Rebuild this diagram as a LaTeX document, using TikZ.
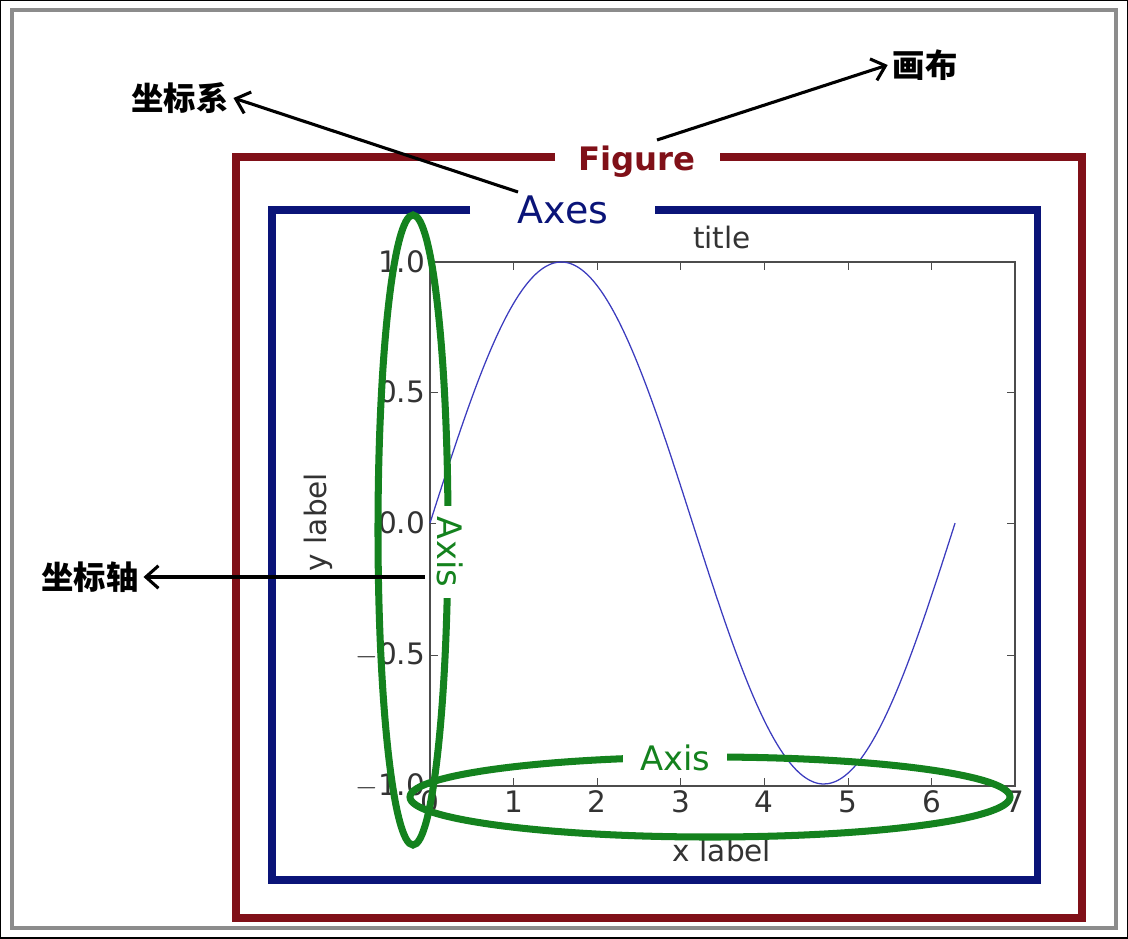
\documentclass[tikz,border=0pt]{standalone}
\usepackage{fontspec}
\setmainfont{DejaVu Sans}
\newfontfamily\cjk{Noto Sans CJK SC}
\usetikzlibrary{calc}
\usetikzlibrary{positioning}
\usetikzlibrary{arrows.meta}
\definecolor{figred}{RGB}{128,16,24}
\definecolor{axblue}{RGB}{10,20,120}
\definecolor{axgreen}{RGB}{20,130,30}
\definecolor{curve}{RGB}{60,60,190}
\tikzset{
  tick/.style={font=\fontsize{21}{24}\selectfont, text=black!80},
  zh/.style={font=\cjk\bfseries\fontsize{23}{26}\selectfont},
  callout/.style={draw=black, line width=2.2pt, -{Straight Barb[length=9pt,width=16pt]}},
}
\begin{document}
\begin{tikzpicture}[x=0.025cm,y=-0.025cm]
		  \useasboundingbox (0,0) rectangle (1128,938);
		  \draw[black, line width=1pt] (0,0) rectangle (1128,938);
		  \draw[black!45, line width=2.5pt] (12,10) rectangle (1116,928);
		  % figure frame
		  \draw[figred, line width=5.5pt] (555,157) -- (236,157) -- (236,918) -- (1082,918) -- (1082,157) -- (720,157);
		  \node[text=figred, font=\bfseries\fontsize{23}{26}\selectfont] (fig) at (637,162) {Figure};
		  % axes frame
		  \draw[axblue, line width=5pt] (470,210) -- (272,210) -- (272,880) -- (1037,880) -- (1037,210) -- (655,210);
		  \node[text=axblue, font=\fontsize{27}{30}\selectfont] (axes) at (563,210) {Axes};
		  % plot
		  \draw[black!70, line width=0.8pt] (430,262) rectangle (1015,786);
		  \node[tick] (title) at (722,237) {title};
		  \foreach \v/\yy in {1.0/262, 0.5/392, 0.0/523, $-$0.5/655, $-$1.0/786}{
		    \node[tick, anchor=east] at (430,\yy) {\v};
		    \draw[black!70] (430,\yy) -- (438,\yy) (1015,\yy) -- (1007,\yy);
		  }
		  \foreach \k in {0,...,7}{
		    \node[tick, anchor=north] at ({430+\k*83.57},786) {\k};
		    \draw[black!70] ({430+\k*83.57},786) -- ({430+\k*83.57},778) ({430+\k*83.57},262) -- ({430+\k*83.57},270);
		  }
		  \draw[curve, line width=0.9pt, domain=0:6.2832, samples=120, smooth]
		    plot ({430+\x*83.57},{523-261*sin(\x r)});
		  \node[tick, rotate=90] (ylab) at (318,522) {y label};
		  \node[tick] (xlab) at (722,850) {x label};
		  % axis ellipses
		  \draw[axgreen, line width=5pt] (413,530) ellipse [x radius=35, y radius=315];
		  \draw[axgreen, line width=5pt] (710,797) ellipse [x radius=300, y radius=40];
		  \node[text=axgreen, fill=white, rotate=-90, inner xsep=8pt, inner ysep=1pt, font=\fontsize{24}{28}\selectfont] (axisy) at (450,552) {Axis};
		  \node[text=axgreen, fill=white, inner xsep=12pt, inner ysep=1pt, font=\fontsize{24}{28}\selectfont] (axisx) at (675,758) {Axis};
		  % callouts
		  \node[zh] (zbx) at (180,98) {坐标系};
		  \node[zh] (hb) at (925,65) {画布};
		  \node[zh] (zbz) at (90,577) {坐标轴};
		  \coordinate (figtip) at (657,140);
		  \coordinate (axtip) at (518,192);
		  \coordinate (axistip) at (425,577);
		  \draw[callout] (axtip) -- (zbx.east);
		  \draw[callout] (figtip) -- (hb.west);
		  \draw[callout] (axistip) -- (zbz.east);
\end{tikzpicture}
\end{document}
